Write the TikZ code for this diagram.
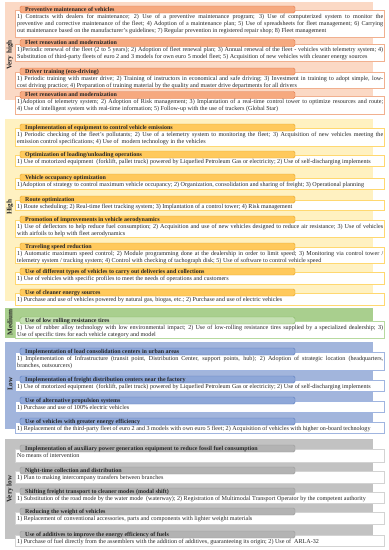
\documentclass[tikz,border=0pt]{standalone}
\usepackage{fontspec}
\setmainfont{Liberation Serif}
\definecolor{vhband}{HTML}{FBD9C5}
\definecolor{vhtab}{HTML}{F6A97F}
\definecolor{vhtabd}{HTML}{E2794A}
\definecolor{vhbox}{HTML}{F1B08F}
\definecolor{hiband}{HTML}{FFF1C1}
\definecolor{hitab}{HTML}{FFC95C}
\definecolor{hitabd}{HTML}{E3A42A}
\definecolor{hibox}{HTML}{FFD870}
\definecolor{meband}{HTML}{A9CF8E}
\definecolor{metab}{HTML}{C5E0B3}
\definecolor{metabd}{HTML}{86B866}
\definecolor{mebox}{HTML}{B7DA9F}
\definecolor{loband}{HTML}{A2B5DC}
\definecolor{lotab}{HTML}{8EA7D8}
\definecolor{lotabd}{HTML}{5B7DC0}
\definecolor{lobox}{HTML}{A0B5E0}
\definecolor{vlband}{HTML}{C2C2C2}
\definecolor{vltab}{HTML}{B3B3B3}
\definecolor{vltabd}{HTML}{9A9A9A}
\definecolor{vlbox}{HTML}{D3D3D3}
\definecolor{txt}{HTML}{262626}
\tikzset{
  tabshape/.style={rounded corners=1.5pt, line width=0.45pt},
  boxshape/.style={fill=white, line width=0.6pt},
  bodytext/.style={anchor=base west, text width=366pt, inner sep=0pt, align=justify,
    font=\fontsize{6.1}{7}\selectfont, text=txt},
  tabtext/.style={anchor=base west, inner sep=0pt, font=\bfseries\fontsize{6}{6.5}\selectfont, text=txt},
  lvltext/.style={rotate=90, inner sep=0pt, font=\bfseries\fontsize{7.2}{8}\selectfont, text=txt}
}
\newcommand\mybox[6]{%
  \draw[boxshape, draw=#4box] (15,{#2+4.5}) rectangle (384,#3);
  \draw[tabshape, fill=#4tab, draw=#4tabd] (20,#2) rectangle (295,{#2+7});
  \node[tabtext] (#1h) at (25,{#2+5.3}) {#5};
  \node[bodytext] (#1b) at (17,{#2+12.3}) {#6};
}
\begin{document}
\begin{tikzpicture}[x=1pt,y=-1pt]
\useasboundingbox (0,0) rectangle (389,550);
% bands
\fill[vhband] (5,2) rectangle (373,100);
\fill[hiband] (5,119) rectangle (373,301);
\fill[meband] (5,308) rectangle (373,338);
\fill[loband] (5,342) rectangle (373,429);
\fill[vlband] (5,439) rectangle (373,539);
\node[lvltext] (lvh) at (10,55) {Very high};
\node[lvltext] (lhi) at (10,207) {High};
\node[lvltext] (lme) at (10,322) {Medium};
\node[lvltext] (llo) at (10,384) {Low};
\node[lvltext] (lvl) at (10,489) {Very low};
% Very high
\mybox{b1}{6}{37}{vh}{Preventive maintenance of vehicles}{1) Contracts with dealers for maintenance; 2) Use of a preventive maintenance program; 3) Use of computerized system to monitor the\linebreak preventive and corrective maintenance of the fleet; 4) Adoption of a maintenance plan; 5) Use of spreadsheets for fleet management; 6) Carrying\linebreak out maintenance based on the manufacturer's guidelines; 7) Regular prevention in registered repair shop; 8) Fleet management}
\mybox{b2}{39.5}{61}{vh}{Fleet renovation and modernization}{1)Periodic renewal of the fleet (2 to 5 years); 2) Adoption of fleet renewal plan; 3) Annual renewal of the fleet - vehicles with telemetry system; 4)\linebreak Substitution of third-party fleets of euro 2 and 3 models for own euro 5 model fleet; 5) Acquisition of new vehicles with cleaner energy sources}
\mybox{b3}{68}{88}{vh}{Driver training (eco-driving)}{1) Periodic training with master drive; 2) Training of instructors in economical and safe driving; 3) Investment in training to adopt simple, low-\linebreak cost driving practice; 4) Preparation of training material by the quality and master drive departments for all drivers}
\mybox{b4}{91.5}{114}{vh}{Fleet renovation and modernization}{1)Adoption of telemetry system; 2) Adoption of Risk management; 3) Implantation of a real-time control tower to optimize resources and route;\linebreak 4) Use of intelligent system with real-time information; 5) Follow-up with the use of trackers (Global Star)}
% High
\mybox{b5}{124}{146}{hi}{Implementation of equipment to control vehicle emissions}{1) Periodic checking of the fleet's pollutants; 2) Use of a telemetry system to monitoring the fleet; 3) Acquisition of new vehicles meeting the\linebreak emission control specifications; 4) Use of~ modern technology in the vehicles}
\mybox{b6}{151}{166}{hi}{Optimization of loading/unloading operations}{1) Use of motorized equipment~ (forklift, pallet truck) powered by Liquefied Petroleum Gas or electricity; 2) Use of self-discharging implements}
\mybox{b7}{174}{189}{hi}{Vehicle occupancy optimization}{1)Adoption of strategy to control maximum vehicle occupancy; 2) Organization, consolidation and sharing of freight; 3) Operational planning}
\mybox{b8}{196}{210}{hi}{Route optimization}{1) Route scheduling; 2) Real-time fleet tracking system; 3) Implantation of a control tower; 4) Risk management}
\mybox{b9}{216}{237}{hi}{Promotion of improvements in vehicle aerodynamics}{1) Use of deflectors to help reduce fuel consumption; 2) Acquisition and use of new vehicles designed to reduce air resistance; 3) Use of vehicles\linebreak with airfoils to help with fleet aerodynamics}
\mybox{b10}{243}{263}{hi}{Traveling speed reduction}{1) Automatic maximum speed control; 2) Module programming done at the dealership in order to limit speed; 3) Monitoring via control tower /\linebreak telemetry system / tracking system; 4) Control with checking of tachograph disk; 5) Use of software to control vehicle speed}
\mybox{b11}{268}{284}{hi}{Use of different types of vehicles to carry out deliveries and collections}{1) Use of vehicles with specific profiles to meet the needs of operations and customers}
\mybox{b12}{289}{305}{hi}{Use of cleaner energy sources}{1) Purchase and use of vehicles powered by natural gas, biogas, etc.; 2) Purchase and use of electric vehicles}
% Medium
\mybox{b13}{317}{338}{me}{Use of low rolling resistance tires}{1) Use of rubber alloy technology with low environmental impact; 2) Use of low-rolling resistance tires supplied by a specialized dealership; 3)\linebreak Use of specific tires for each vehicle category and model}
% Low
\mybox{b14}{348}{370}{lo}{Implementation of load consolidation centers in urban areas}{1) Implementation of Infrastructure (transit point, Distribution Center, support points, hub); 2) Adoption of strategic location (headquarters,\linebreak branches, outsourcers)}
\mybox{b15}{376}{391}{lo}{Implementation of freight distribution centers near the factory}{1) Use of motorized equipment~ (forklift, pallet truck) powered by Liquefied Petroleum Gas or electricity; 2) Use of self-discharging implements}
\mybox{b16}{397}{412}{lo}{Use of alternative propulsion systems}{1) Purchase and use of 100\% electric vehicles}
\mybox{b17}{418}{433}{lo}{Use of vehicles with greater energy efficiency}{1) Replacement of the third-party fleet of euro 2 and 3 models with own euro 5 fleet; 2) Acquisition of vehicles with higher on-board technology}
% Very low
\mybox{b18}{445}{462}{vl}{Implementation of auxiliary power generation equipment to reduce fossil fuel consumption}{No means of intervention}
\mybox{b19}{467}{483}{vl}{Night-time collection and distribution}{1) Plan to making intercompany transfers between branches}
\mybox{b20}{488}{503}{vl}{Shifting freight transport to cleaner modes (modal shift)}{1) Substitution of the road mode by the water mode~ (waterway); 2) Registration of Multimodal Transport Operator by the competent authority}
\mybox{b21}{508}{524}{vl}{Reducing the weight of vehicles}{1) Replacement of conventional accessories, parts and components with lighter weight materials}
\mybox{b22}{531}{546}{vl}{Use of additives to improve the energy efficiency of fuels}{1) Purchase of fuel directly from the assemblers with the addition of additives, guaranteeing its origin; 2) Use of~ ARLA-32}
\end{tikzpicture}
\end{document}
